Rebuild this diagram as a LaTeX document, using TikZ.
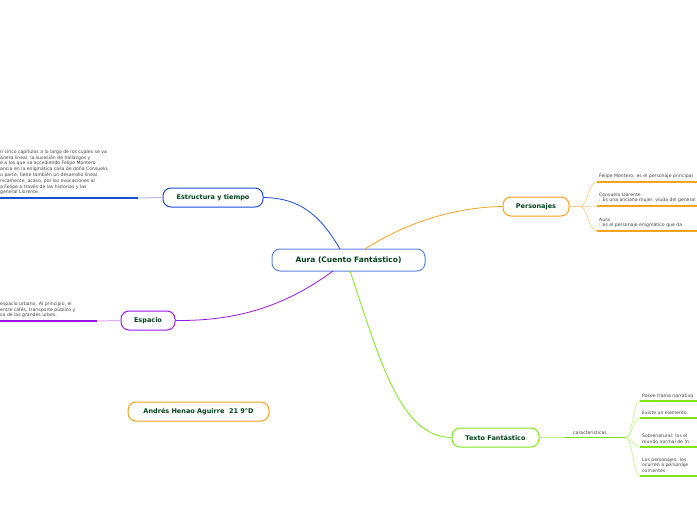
\documentclass[tikz,border=0pt]{standalone}
\usepackage{fontspec}
\setmainfont{DejaVu Sans}
\begin{document}
\begin{tikzpicture}[x=1pt,y=-1pt,
 box/.style={draw=#1,line width=1pt,rounded corners=8pt,fill=white,font=\fontsize{6.5}{7}\selectfont\bfseries,text=green!20!black!80!teal},
 sm/.style={font=\fontsize{4.6}{5.8}\selectfont,text=black!75,align=left,inner sep=0pt}]
\definecolor{cb}{HTML}{1A4FD6}\definecolor{cp}{HTML}{9B17E6}
\definecolor{co}{HTML}{F5A21F}\definecolor{cg}{HTML}{80E31A}
\useasboundingbox (0,0) rectangle (697,520);
% central
\node[box=cb!70,minimum width=153pt,minimum height=22pt,font=\fontsize{7.5}{8}\selectfont\bfseries] (c) at (348.5,260) {Aura (Cuento Fantástico)};
\node[box=cb,minimum width=100pt,minimum height=19pt] (e) at (213,197.5) {Estructura y tiempo};
\node[box=cp,minimum width=54pt,minimum height=19pt] (s) at (148,320.5) {Espacio};
\node[box=co,minimum width=66pt,minimum height=19pt] (p) at (536,206.5) {Personajes};
\node[box=cg,minimum width=87pt,minimum height=19pt] (t) at (495.5,437.5) {Texto Fantástico};
\node[box=co,minimum width=141pt,minimum height=19pt] (a) at (198.5,411.5) {Andrés Henao Aguirre\ \ 21 9°D};
% curves
\draw[cb,line width=0.8pt] (340,249) .. controls (320,215) and (300,198) .. (e.east);
\draw[cp,line width=0.8pt] (333,271) .. controls (280,310) and (230,321) .. (s.east);
\draw[co,line width=0.8pt] (365,249) .. controls (410,220) and (460,207) .. (p.west);
\draw[cg,line width=0.8pt] (350,271) .. controls (380,360) and (400,437) .. (t.west);
% estructura
\coordinate (e1) at (138,198); \coordinate (e0) at (0,198);
\draw[cb!35,line width=1pt] (e.west) -- (e1);
\draw[cb,line width=1.6pt] (e1) -- (e0);
\node[sm,anchor=south west] (et) at (0,195) {n cinco capítulos a lo largo de los cuales se va\\
anera lineal, la sucesión de hallazgos y\\
e a los que va accediendo Felipe Montero\\
ancia en la enigmática casa de doña Consuelo.\\
u parte, tiene también un desarrollo lineal,\\
nicamente, acaso, por las evocaciones al\\
a Felipe a través de las historias y las\\
general Llorente.};
% espacio
\coordinate (s1) at (97,321); \coordinate (s0) at (0,321);
\draw[cp!35,line width=1pt] (s.west) -- (s1);
\draw[cp,line width=1.6pt] (s1) -- (s0);
\node[sm,anchor=south west] (st) at (0,318) { espacio urbano. Al principio, el\\
entre cafés, transporte público y\\
co de las grandes urbes.};
% personajes
\coordinate (pj) at (580,206.5);
\draw[co!60,line width=0.6pt] (p.east) -- (pj);
\foreach \y/\n in {182/p1,206/p2,231/p3}{
 \coordinate (\n a) at (597,\y); \coordinate (\n b) at (697,\y);
 \draw[co!60,line width=0.6pt] (pj) .. controls (588,206.5) and (588,\y) .. (\n a);
 \draw[co,line width=1.6pt] (\n a) -- (\n b);}
\node[sm,anchor=south west] at (599,179) {Felipe Montero: es el personaje principal};
\node[sm,anchor=south west] at (599,203) {Consuelo Llorente\\: Es una anciana mujer, viuda del general};
\node[sm,anchor=south west] at (599,228) {Aura\\: es el personaje enigmático que da};
% texto
\coordinate (k0) at (565,437.5); \coordinate (k1) at (625,437.5);
\draw[cg!50,line width=0.6pt] (t.east) -- (k0);
\draw[cg,line width=1.6pt] (k0) -- (k1);
\node[sm,anchor=south] at (590,435) {caracteristicas};
\foreach \y/\n in {401/q1,418/q2,447/q3,476/q4}{
 \coordinate (\n a) at (640,\y); \coordinate (\n b) at (697,\y);
 \draw[cg!50,line width=0.6pt] (k1) .. controls (633,437.5) and (633,\y) .. (\n a);
 \draw[cg,line width=1.6pt] (\n a) -- (\n b);}
\node[sm,anchor=south west] at (642,398) {Posee trama narrativa};
\node[sm,anchor=south west] at (642,415) {Existe un elemento.};
\node[sm,anchor=south west] at (642,444) {Sobrenatural: los el\\mundo normal de m};
\node[sm,anchor=south west] at (642,473) {Los personajes: los\\ocurren a personaje\\corrientes};
\end{tikzpicture}
\end{document}
